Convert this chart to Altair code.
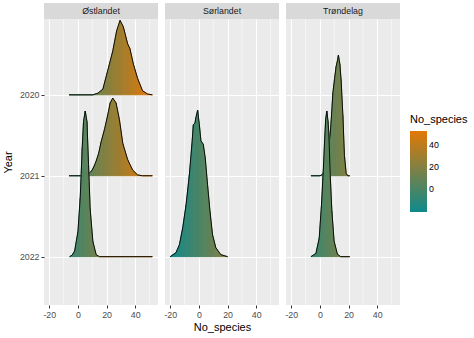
import altair as alt
import pandas as pd

regions = ["Østlandet", "Sørlandet", "Trøndelag"]
years = ["2020", "2021", "2022"]
year_pos = [3, 2, 1]

x_ticks = [-20, 0, 20, 40]
x_minor = [-10, 10, 30, 50]
legend_ticks = [0, 20, 40]

# Density ridges: x (No_species) and ridge height (in year units)
ost_2020_x = [-6.2, 10.4, 13.9, 17.4, 20.8, 24.3, 27.0, 29.4, 31.7, 34.7, 36.3, 38.7, 41.7, 45.1, 48.6, 52.0]
ost_2020_h = [0, 0, 0.02, 0.07, 0.30, 0.54, 0.79, 0.92, 0.84, 0.63, 0.57, 0.38, 0.20, 0.05, 0.01, 0]

ost_2021_x = [-6.2, 4.0, 7.0, 8.5, 9.9, 11.3, 12.7, 14.5, 16.2, 18.5, 20.8, 22.5, 24.3, 26.6, 29.0, 31.3, 34.7, 38.2, 41.7, 45.0, 52.0]
ost_2021_h = [0, 0, 0.02, 0.04, 0.07, 0.12, 0.18, 0.28, 0.42, 0.57, 0.75, 0.90, 0.96, 0.90, 0.69, 0.40, 0.20, 0.07, 0.01, 0, 0]

ost_2022_x = [-5.8, -4.0, -2.3, 0.0, 1.6, 3.0, 3.9, 5.1, 6.3, 7.4, 8.5, 10.4, 12.7, 15.0, 52.0]
ost_2022_h = [0, 0.02, 0.07, 0.31, 0.73, 1.35, 1.67, 1.80, 1.67, 1.14, 0.60, 0.19, 0.025, 0, 0]

sor_2022_x = [-20.1, -16.0, -13.6, -11.3, -9.0, -6.7, -4.9, -3.9, -2.8, -2.1, -0.9, 0.3, 1.4, 3.0, 4.4, 6.0, 7.7, 9.5, 11.8, 15.3, 20.0]
sor_2022_h = [0, 0.05, 0.15, 0.36, 0.64, 1.01, 1.39, 1.63, 1.65, 1.72, 1.81, 1.63, 1.43, 1.39, 1.22, 0.89, 0.56, 0.27, 0.11, 0.025, 0]

trn_2021_x = [-6.3, 0.0, 2.0, 4.0, 5.5, 7.2, 8.1, 9.0, 10.2, 11.3, 12.2, 12.9, 13.9, 14.8, 16.0, 17.1, 18.3, 19.4, 20.8]
trn_2021_h = [0, 0, 0.02, 0.10, 0.30, 0.52, 0.75, 1.02, 1.20, 1.35, 1.42, 1.49, 1.38, 1.18, 0.75, 0.25, 0.03, 0, 0]

trn_2022_x = [-6.3, -2.8, -0.5, 1.1, 2.3, 3.3, 4.0, 4.8, 5.6, 6.2, 7.2, 8.3, 9.9, 12.2, 14.5, 20.8]
trn_2022_h = [0, 0.04, 0.23, 0.65, 1.05, 1.45, 1.70, 1.80, 1.68, 1.53, 1.00, 0.57, 0.19, 0.03, 0, 0]

ridges = [
    ("Østlandet", "2020", ost_2020_x, ost_2020_h),
    ("Østlandet", "2021", ost_2021_x, ost_2021_h),
    ("Østlandet", "2022", ost_2022_x, ost_2022_h),
    ("Sørlandet", "2022", sor_2022_x, sor_2022_h),
    ("Trøndelag", "2021", trn_2021_x, trn_2021_h),
    ("Trøndelag", "2022", trn_2022_x, trn_2022_h),
]

area_rows, line_rows = [], []
for reg, yr, xs, hs in ridges:
    base = year_pos[years.index(yr)]
    for i, (x, h) in enumerate(zip(xs, hs)):
        line_rows.append(dict(region=reg, year=yr, x=x, top=base + h, base=base, ord=i))
    for i in range(len(xs) - 1):
        mid = (xs[i] + xs[i + 1]) / 2
        for j in (i, i + 1):
            area_rows.append(dict(region=reg, year=yr, seg=i, x=xs[j], top=base + hs[j],
                                  base=base, mid=mid))

area_df = pd.DataFrame(area_rows)
line_df = pd.DataFrame(line_rows)
minor_df = pd.DataFrame({"x": x_minor})

FONT = "Liberation Sans"
W, H = 114, 286
xscale = alt.Scale(domain=[-23.7, 55.9], nice=False, zero=False)
yscale = alt.Scale(domain=[0.403, 3.937], nice=False, zero=False)
cdomain = [-20.1, 52.1]
crange = ["#0E8A8C", "#E27806"]
cscale = alt.Scale(domain=cdomain, range=crange, interpolate="rgb")

label_expr = " : ".join(f"datum.value == {p} ? '{y}'" for p, y in zip(year_pos, years)) + " : ''"
legend = alt.Legend(title="No_species", values=legend_ticks, type="gradient", orient="none",
                    legendX=366, legendY=95, direction="vertical")

# the segment outline takes the same colour as its fill, from the shared colour scale
seam_stroke = alt.ExprRef("scale('color', datum.mid)")


def panel(reg, idx):
    xaxis = alt.Axis(values=x_ticks, labelExpr="'' + datum.value",
                     title="No_species" if idx == 1 else None)
    if idx == 0:
        yaxis = alt.Axis(values=year_pos, labelExpr=label_expr, title="Year")
    else:
        yaxis = alt.Axis(values=year_pos, labels=False, ticks=False, title=None)
    X = alt.X("x:Q", scale=xscale, axis=xaxis)
    Y = alt.Y("top:Q", scale=yscale, axis=yaxis)
    color = alt.Color("mid:Q", scale=cscale, legend=legend)

    layers = [
        alt.Chart(minor_df).mark_rule(color="white", strokeWidth=0.55).encode(x=X)
    ]
    for yr in years:
        a = area_df[(area_df.region == reg) & (area_df.year == yr)]
        l = line_df[(line_df.region == reg) & (line_df.year == yr)]
        if len(a) == 0:
            continue
        layers.append(
            alt.Chart(a).mark_area(opacity=1, stroke=seam_stroke, strokeWidth=1.0).encode(
                x=X, y=Y, y2="base:Q", color=color, detail="seg:N")
        )
        layers.append(
            alt.Chart(l).mark_line(color="black", strokeWidth=0.9).encode(
                x=X, y=Y, order="ord:Q")
        )
    strip = alt.Data(values=[{"label": reg}])
    layers.append(
        alt.Chart(strip).mark_rect(color="#D9D9D9").encode(
            x=alt.value(0), x2=alt.value(W), y=alt.value(-16), y2=alt.value(0))
    )
    layers.append(
        alt.Chart(strip).mark_text(fontSize=8.8, color="#1A1A1A", font=FONT).encode(
            x=alt.value(W / 2), y=alt.value(-8), text="label:N")
    )
    return alt.layer(*layers).properties(width=W, height=H)


chart = alt.hconcat(*[panel(r, i) for i, r in enumerate(regions)], spacing=5).resolve_scale(
    color="shared"
).properties(
    padding={"left": 2, "top": 3, "right": 5, "bottom": 5}
).configure_view(
    fill="#EBEBEB", stroke=None
).configure_axis(
    grid=True, gridColor="white", gridWidth=1.1, domain=False,
    tickColor="#333333", tickSize=3, tickWidth=1,
    labelFont=FONT, labelFontSize=8.8, labelColor="#4D4D4D", labelPadding=2,
    titleFont=FONT, titleFontSize=11, titleFontWeight="normal", titleColor="black",
).configure_axisY(titlePadding=6).configure_axisX(titlePadding=3).configure_legend(
    titleFont=FONT, titleFontSize=11, titleFontWeight="normal", titleColor="black",
    labelFont=FONT, labelFontSize=8.8, labelColor="black",
    gradientLength=81, gradientThickness=17, gradientStrokeWidth=0,
    titlePadding=6, padding=0,
)

chart.save("out.html", embed_options={"renderer": "svg", "actions": False})
